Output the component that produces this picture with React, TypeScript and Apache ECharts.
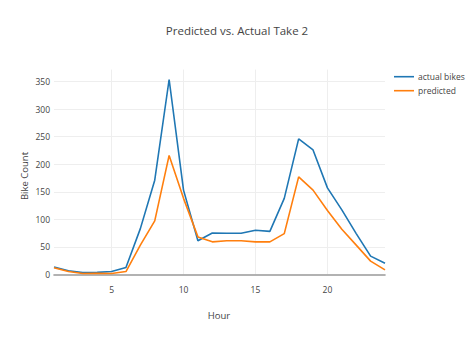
import React, { useEffect, useRef } from "react";
import * as echarts from "echarts";

const hours = [1, 2, 3, 4, 5, 6, 7, 8, 9, 10, 11, 12, 13, 14, 15, 16, 17, 18, 19, 20, 21, 22, 23, 24];
const actualBikes = [13, 6.5, 3, 3.5, 5, 12.5, 83, 171, 354, 153, 61, 75, 74.5, 74.5, 80, 78, 138, 246, 226, 157, 117, 74, 33, 20];
const predicted = [12, 5, 1.5, 2, 1.5, 5, 53, 97, 216, 138, 68, 59, 61, 61, 59, 59, 74, 177, 153, 116, 82, 53, 24, 8];
const xTicks = [5, 10, 15, 20];
const yTicks = [0, 50, 100, 150, 200, 250, 300, 350];

const FONT = '"Open Sans", "DejaVu Sans", sans-serif';
const TXT = "#444";

export default function App() {
  const ref = useRef<HTMLDivElement>(null);
  useEffect(() => {
    if (!ref.current) return;
    const chart = echarts.init(ref.current, null, { renderer: "svg" });
    const isTick = (_i: number, v: string | number) => xTicks.includes(Number(v));
    chart.setOption({
      animation: false,
      backgroundColor: "#fff",
      textStyle: { fontFamily: FONT },
      title: {
        text: "Predicted vs. Actual Take 2",
        left: "center",
        top: 19,
        textStyle: { fontFamily: FONT, fontSize: 11.5, fontWeight: "normal", color: TXT },
      },
      legend: {
        orient: "vertical",
        left: 394,
        top: 71.7,
        padding: 0,
        icon: "rect",
        itemWidth: 20,
        itemHeight: 1.6,
        itemGap: 4,
        textStyle: { fontFamily: FONT, fontSize: 8.5, color: TXT, lineHeight: 10, padding: [0, 0, 0, -1] },
        data: ["actual bikes", "predicted"],
      },
      grid: { left: 54, right: 89, top: 69.6, bottom: 63.7, containLabel: false },
      xAxis: {
        type: "category",
        boundaryGap: false,
        data: hours.map(String),
        axisLine: { show: true, lineStyle: { color: "#999", width: 1.6 } },
        axisTick: { show: false },
        axisLabel: {
          color: TXT,
          fontFamily: FONT,
          fontSize: 8.5,
          margin: 11,
          interval: isTick,
        },
        splitLine: { show: true, interval: isTick, lineStyle: { color: "#eee", width: 1 } },
      },
      yAxis: {
        type: "value",
        min: 0,
        max: 372,
        interval: 50,
        axisLine: { show: false },
        axisTick: { show: false },
        axisLabel: {
          color: TXT,
          fontFamily: FONT,
          fontSize: 8.5,
          margin: 4,
          showMaxLabel: false,
          formatter: (v: number) => (yTicks.includes(v) ? String(v) : ""),
        },
        splitLine: { show: true, showMinLine: false, showMaxLine: false, lineStyle: { color: "#eee", width: 1 } },
      },
      graphic: [
        {
          type: "text",
          x: 219,
          y: 315.5,
          style: { text: "Hour", font: `9.5px ${FONT}`, fill: TXT, align: "center", verticalAlign: "middle" },
        },
        {
          type: "text",
          x: 24,
          y: 176,
          rotation: Math.PI / 2,
          style: { text: "Bike Count", font: `9.5px ${FONT}`, fill: TXT, align: "center", verticalAlign: "middle" },
        },
      ],
      series: [
        {
          name: "actual bikes",
          type: "line",
          data: actualBikes,
          symbol: "none",
          color: "#1f77b4",
          lineStyle: { width: 1.6, color: "#1f77b4" },
          z: 3,
        },
        {
          name: "predicted",
          type: "line",
          data: predicted,
          symbol: "none",
          color: "#ff7f0e",
          lineStyle: { width: 1.6, color: "#ff7f0e" },
          z: 4,
        },
      ],
    });
    return () => chart.dispose();
  }, []);
  return <div ref={ref} style={{ width: 474, height: 338, position: "absolute", left: 0, top: 0 }} />;
}
